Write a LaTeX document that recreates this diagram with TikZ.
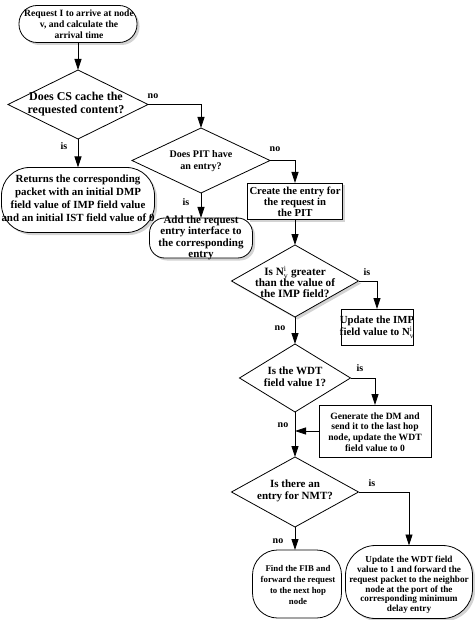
\documentclass[tikz,border=0pt]{standalone}
\usepackage{fontspec}
\setmainfont{Liberation Serif}
\usetikzlibrary{shapes.geometric,arrows.meta,shadows}
\begin{document}
\begin{tikzpicture}[x=1pt,y=-1pt,
  fs/.style 2 args={font=\bfseries\fontsize{#1}{#2}\selectfont},
  base/.style={draw=black,line width=0.8pt,fill=white,inner sep=0pt,outer sep=0pt},
  shd/.style={drop shadow={opacity=0.35,shadow xshift=2.5pt,shadow yshift=-2.5pt}},
  term/.style={base,rectangle},
  proc/.style={base,rectangle},
  dec/.style={base,diamond},
  txt/.style={align=center,inner sep=0pt},
  lab/.style={fs={10}{11},inner sep=0pt},
  arr/.style={line width=0.8pt,-{Triangle[length=11pt,width=7pt]}}]
\useasboundingbox (0,0) rectangle (474,620);
% shapes
\node[term,shd,minimum width=118pt,minimum height=37pt,rounded corners=18pt] (start) at (78,24) {};
\node[dec,minimum width=140pt,minimum height=69pt] (d1) at (78,104.5) {};
\node[term,shd,minimum width=153pt,minimum height=65pt,rounded corners=28pt] (t2) at (78,200) {};
\node[dec,minimum width=138pt,minimum height=65pt] (d2) at (201,160.5) {};
\node[term,shd,minimum width=103pt,minimum height=40pt,rounded corners=15pt] (t3) at (201,238) {};
\node[proc,shd,minimum width=95pt,minimum height=36pt] (b1) at (295,201) {};
\node[dec,shd,minimum width=127pt,minimum height=72pt] (d3) at (295,281) {};
\node[proc,minimum width=72pt,minimum height=36pt] (b2) at (377,327) {};
\node[dec,minimum width=111pt,minimum height=68pt] (d4) at (295,378) {};
\node[proc,minimum width=112pt,minimum height=52pt] (b3) at (375,431) {};
\node[dec,minimum width=127pt,minimum height=70pt] (d5) at (295,492) {};
\node[term,minimum width=89pt,minimum height=68pt,rounded corners=25pt] (t5) at (297,584) {};
\node[term,shd,minimum width=127pt,minimum height=73pt,rounded corners=30pt] (t6) at (409,582) {};
% texts
\node[txt,fs={9.6}{11}] (start-t) at (79,24)
  {Request I to arrive at node\\ v, and calculate the\\ arrival time};
\node[txt,fs={12}{13}] (d1-t) at (76,104)
  {Does CS cache the\\ requested content?};
\node[txt,fs={10.9}{13}] (t2-t) at (78,198)
  {Returns the corresponding\\ packet with an initial DMP\\ field value of IMP field value\\ and an initial IST field value of 0};
\node[txt,fs={10.1}{12}] (d2-t) at (201,161)
  {Does PIT have\\ an entry?};
\node[txt,fs={11}{11.3}] (t3-t) at (201,238)
  {Add the request\\ entry interface to\\ the corresponding\\ entry};
\node[txt,fs={10.7}{11}] (b1-t) at (295,202)
  {Create the entry for\\ the request in\\ the PIT};
\node[txt,fs={11.2}{10.8}] (d3-t) at (295,282)
  {Is N$^{\mathrm{i}}_{\mathrm{v}}$ greater\\ than the value of\\ the IMP field?};
\node[txt,fs={10.8}{12}] (b2-t) at (377,327)
  {Update the IMP\\ field value to N$^{\mathrm{i}}_{\mathrm{v}}$};
\node[txt,fs={11}{11.5}] (d4-t) at (295,377)
  {Is the WDT\\ field value 1?};
\node[txt,fs={9.6}{10.8}] (b3-t) at (375,432)
  {Generate the DM and\\ send it to the last hop\\ node, update the WDT\\ field value to 0};
\node[txt,fs={11}{12.5}] (d5-t) at (295,491)
  {Is there an\\ entry for NMT?};
\node[txt,fs={8.8}{11.3}] (t5-t) at (298,585)
  {Find the FIB and\\ forward the request\\ to the next hop\\ node};
\node[txt,fs={9.2}{9.8}] (t6-t) at (409,585)
  {Update the WDT field\\ value to 1 and forward the\\ request packet to the neighbor\\ node at the port of the\\ corresponding minimum\\ delay entry};
% connectors
\draw[arr] (start.south) -- (d1.north);
\draw[arr] (d1.east) -| (d2.north);
\draw[arr] (d1.south) -- (t2.north);
\draw[arr] (d2.south) -- (t3.north);
\draw[arr] (d2.east) -| (b1.north);
\draw[arr] (b1.south) -- (d3.north);
\draw[arr] (d3.east) -| (b2.north);
\draw[arr] (d3.south) -- (d4.north);
\draw[arr] (d4.east) -| (b3.north);
\draw[arr] (d4.south) -- (d5.north);
\draw[arr] (b3.west) -- (d4.south |- b3.west);
\draw[arr] (d5.south) -- (d5.south |- t5.north);
\draw[arr] (d5.east) -| (t6.north);
% labels
\node[lab] (l1) at (153,96) {no};
\node[lab] (l2) at (64,146) {is};
\node[lab] (l3) at (275,149) {no};
\node[lab] (l4) at (186,202) {is};
\node[lab] (l5) at (367,272) {is};
\node[lab] (l6) at (280,328) {no};
\node[lab] (l7) at (360,368) {is};
\node[lab] (l8) at (283,425) {no};
\node[lab] (l9) at (372,483) {is};
\node[lab] (l10) at (278,541) {no};
\end{tikzpicture}
\end{document}
